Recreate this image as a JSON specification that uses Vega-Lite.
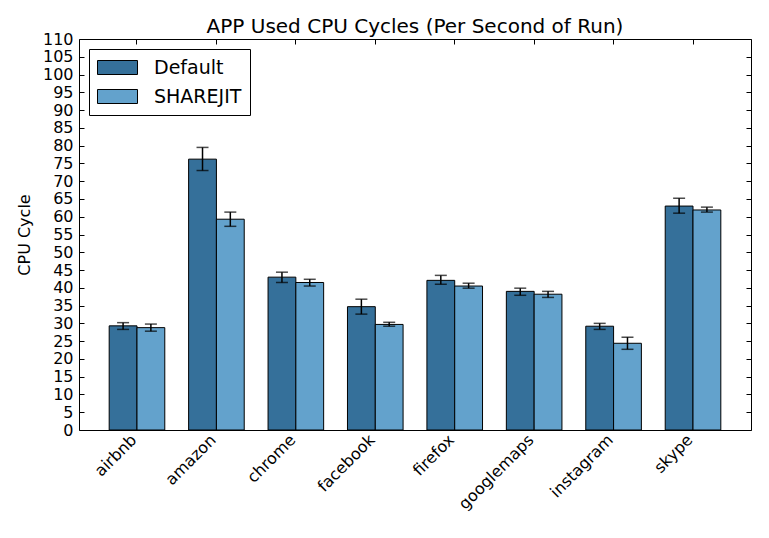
{
  "$schema": "https://vega.github.io/schema/vega-lite/v6.json",
  "width": 672,
  "height": 391,
  "autosize": "none",
  "padding": {"left": 79, "top": 39, "right": 18, "bottom": 108},
  "background": "white",
  "title": {
    "text": "APP Used CPU Cycles (Per Second of Run)",
    "font": "DejaVu Sans",
    "fontSize": 20,
    "fontWeight": "normal",
    "color": "black",
    "offset": -6
  },
  "config": {
    "font": "DejaVu Sans",
    "view": {"stroke": "black", "strokeWidth": 1},
    "axis": {
      "domain": false,
      "grid": false,
      "labelFont": "DejaVu Sans",
      "labelFontSize": 16,
      "labelColor": "black",
      "tickColor": "black",
      "titleFont": "DejaVu Sans",
      "titleFontSize": 16,
      "titleFontWeight": "normal",
      "titleColor": "black"
    }
  },
  "data": {
    "values": [
      {"app": "airbnb", "series": "Default", "value": 29.3, "lo": 28.3, "hi": 30.2},
      {"app": "airbnb", "series": "SHAREJIT", "value": 28.8, "lo": 27.8, "hi": 29.8},
      {"app": "amazon", "series": "Default", "value": 76.2, "lo": 73.0, "hi": 79.5},
      {"app": "amazon", "series": "SHAREJIT", "value": 59.3, "lo": 57.3, "hi": 61.3},
      {"app": "chrome", "series": "Default", "value": 43.0, "lo": 41.5, "hi": 44.4},
      {"app": "chrome", "series": "SHAREJIT", "value": 41.5, "lo": 40.5, "hi": 42.4},
      {"app": "facebook", "series": "Default", "value": 34.7, "lo": 32.6, "hi": 36.8},
      {"app": "facebook", "series": "SHAREJIT", "value": 29.7, "lo": 29.2, "hi": 30.3},
      {"app": "firefox", "series": "Default", "value": 42.1, "lo": 41.0, "hi": 43.5},
      {"app": "firefox", "series": "SHAREJIT", "value": 40.5, "lo": 39.9, "hi": 41.3},
      {"app": "googlemaps", "series": "Default", "value": 39.0, "lo": 37.9, "hi": 39.9},
      {"app": "googlemaps", "series": "SHAREJIT", "value": 38.2, "lo": 37.3, "hi": 39.0},
      {"app": "instagram", "series": "Default", "value": 29.2, "lo": 28.3, "hi": 30.0},
      {"app": "instagram", "series": "SHAREJIT", "value": 24.4, "lo": 22.7, "hi": 26.1},
      {"app": "skype", "series": "Default", "value": 63.0, "lo": 61.0, "hi": 65.2},
      {"app": "skype", "series": "SHAREJIT", "value": 61.9, "lo": 61.3, "hi": 62.7}
    ]
  },
  "encoding": {
    "x": {
      "field": "app",
      "type": "nominal",
      "sort": null,
      "scale": {"paddingInner": 0.3, "paddingOuter": 0.38}
    },
    "xOffset": {"field": "series", "type": "nominal", "scale": {"padding": 0}}
  },
  "layer": [
    {
      "mark": {"type": "bar", "stroke": "black", "strokeWidth": 1},
      "encoding": {
        "x": {
          "field": "app",
          "type": "nominal",
          "sort": null,
          "title": null,
          "scale": {"paddingInner": 0.3, "paddingOuter": 0.38},
          "axis": {
            "labelAngle": -45,
            "labelAlign": "right",
            "labelBaseline": "middle",
            "labelPadding": 12,
            "labelOffset": -3,
            "tickSize": -5
          }
        },
        "y": {
          "field": "value",
          "type": "quantitative",
          "title": "CPU Cycle",
          "scale": {"domain": [0, 110], "nice": false},
          "axis": {
            "values": [0, 5, 10, 15, 20, 25, 30, 35, 40, 45, 50, 55, 60, 65, 70, 75, 80, 85, 90, 95, 100, 105, 110],
            "tickSize": -5,
            "labelPadding": 11,
            "titlePadding": 10
          }
        },
        "color": {
          "field": "series",
          "type": "nominal",
          "scale": {"domain": ["Default", "SHAREJIT"], "range": ["#35709a", "#63a2cc"]},
          "legend": {
            "title": null,
            "orient": "top-left",
            "offset": 10,
            "padding": 8,
            "strokeColor": "black",
            "fillColor": "white",
            "symbolType": "M-2,-0.7H2V0.7H-2Z",
            "symbolSize": 400,
            "symbolOffset": 10,
            "symbolStrokeColor": "black",
            "symbolStrokeWidth": 1,
            "symbolOpacity": 1,
            "labelFont": "DejaVu Sans",
            "labelFontSize": 19,
            "labelColor": "black",
            "labelOffset": 26,
            "rowPadding": 8
          }
        }
      }
    },
    {
      "mark": {"type": "rule", "color": "black", "strokeWidth": 1.5},
      "encoding": {
        "x": {
          "field": "app",
          "type": "nominal",
          "sort": null,
          "axis": {"orient": "top", "labels": false, "title": null, "tickSize": -5}
        },
        "y": {
          "field": "lo",
          "type": "quantitative",
          "axis": {
            "orient": "right",
            "labels": false,
            "title": null,
            "tickSize": -5,
            "values": [0, 5, 10, 15, 20, 25, 30, 35, 40, 45, 50, 55, 60, 65, 70, 75, 80, 85, 90, 95, 100, 105, 110]
          }
        },
        "y2": {"field": "hi"}
      }
    },
    {
      "mark": {"type": "tick", "color": "black", "size": 12, "thickness": 1.5, "orient": "horizontal"},
      "encoding": {
        "x": {"field": "app", "type": "nominal", "sort": null, "axis": null},
        "y": {"field": "lo", "type": "quantitative", "axis": null}
      }
    },
    {
      "mark": {"type": "tick", "color": "black", "size": 12, "thickness": 1.5, "orient": "horizontal"},
      "encoding": {
        "x": {"field": "app", "type": "nominal", "sort": null, "axis": null},
        "y": {"field": "hi", "type": "quantitative", "axis": null}
      }
    }
  ],
  "resolve": {"axis": {"x": "independent", "y": "independent"}}
}
